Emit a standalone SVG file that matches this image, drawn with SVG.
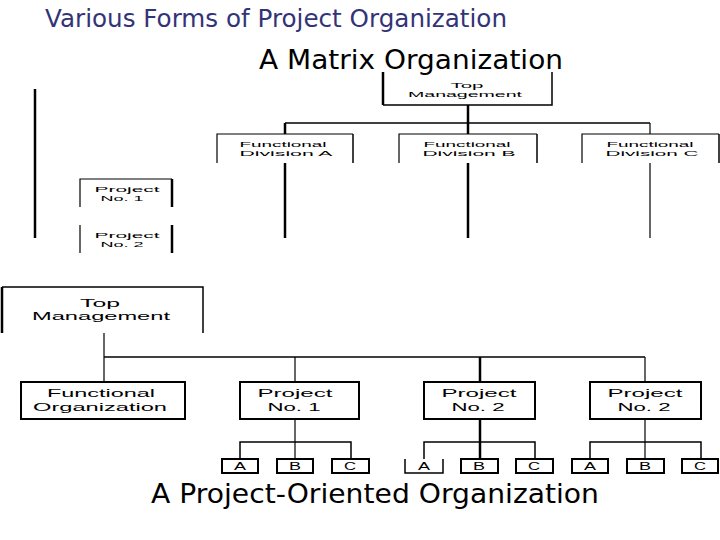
<svg xmlns="http://www.w3.org/2000/svg" width="720" height="540" viewBox="0 0 720 540">
<style>
.t{font-family:"DejaVu Sans","Liberation Sans",sans-serif;}
.lbl{font-family:"Liberation Sans",Arial,sans-serif;fill:#000;text-anchor:middle;}
.s9{font-size:7.5px;}
.s10{font-size:8px;}
.s13{font-size:11px;}
.sl{font-size:10px;}
.ln{stroke:#000;fill:none;stroke-width:1.5;}
.tk{stroke:#000;fill:none;stroke-width:2.5;}
.th{stroke:#000;fill:none;stroke-width:1.2;}
.bx{stroke:#000;fill:#fff;stroke-width:2;}
</style>
<rect width="720" height="540" fill="#fff"/>
<text class="t" x="45" y="27" font-size="24" fill="#333377" textLength="462" lengthAdjust="spacingAndGlyphs">Various Forms of Project Organization</text>
<text class="t" x="259" y="69" font-size="26" fill="#000" textLength="304" lengthAdjust="spacingAndGlyphs">A Matrix Organization</text>
<text class="t" x="151" y="503" font-size="27" fill="#000" textLength="448" lengthAdjust="spacingAndGlyphs">A Project-Oriented Organization</text>

<g id="connectors">
  <line class="tk" x1="35" y1="89" x2="35" y2="238"/>
  <line class="tk" x1="468" y1="105" x2="468" y2="134"/>
  <line class="ln" x1="285" y1="123" x2="650" y2="123"/>
  <line class="tk" x1="285" y1="123" x2="285" y2="134"/>
  <line class="th" x1="650" y1="123" x2="650" y2="134"/>
  <line class="tk" x1="285" y1="163" x2="285" y2="238"/>
  <line class="tk" x1="468" y1="163" x2="468" y2="238"/>
  <line class="th" x1="650" y1="163" x2="650" y2="238"/>
  <line class="th" x1="104" y1="333" x2="104" y2="382"/>
  <line class="ln" x1="104" y1="357" x2="645" y2="357"/>
  <line class="th" x1="295" y1="357" x2="295" y2="382"/>
  <line class="tk" x1="480" y1="357" x2="480" y2="382"/>
  <line class="th" x1="645" y1="357" x2="645" y2="382"/>
  <line class="th" x1="295" y1="419" x2="295" y2="459"/>
  <polyline class="ln" points="240,459 240,442 351,442 351,459"/>
  <line class="tk" x1="480" y1="419" x2="480" y2="459"/>
  <polyline class="ln" points="424,459 424,442 535,442 535,459"/>
  <line class="th" x1="645" y1="419" x2="645" y2="459"/>
  <polyline class="ln" points="590,459 590,442 701,442 701,459"/>
</g>

<g id="matrix-top">
  <line class="tk" x1="383" y1="72" x2="383" y2="105"/>
  <polyline class="ln" points="383,105 552,105 552,72"/>
  <text class="lbl s10" x="467" y="88" textLength="33" lengthAdjust="spacingAndGlyphs">Top</text>
  <text class="lbl s10" x="465" y="97" textLength="114" lengthAdjust="spacingAndGlyphs">Management</text>
</g>
<g id="div-a">
  <polyline class="th" points="217,163 217,134 353,134"/>
  <line class="ln" x1="353" y1="134" x2="353" y2="163"/>
  <text class="lbl s10" x="283" y="147" textLength="87" lengthAdjust="spacingAndGlyphs">Functional</text>
  <text class="lbl s10" x="286" y="156" textLength="93" lengthAdjust="spacingAndGlyphs">Division A</text>
</g>
<g id="div-b">
  <polyline class="th" points="399,163 399,134 537,134"/>
  <line class="ln" x1="537" y1="134" x2="537" y2="163"/>
  <text class="lbl s10" x="467" y="147" textLength="87" lengthAdjust="spacingAndGlyphs">Functional</text>
  <text class="lbl s10" x="469" y="156" textLength="93" lengthAdjust="spacingAndGlyphs">Division B</text>
</g>
<g id="div-c">
  <polyline class="th" points="582,163 582,134 719,134"/>
  <line class="ln" x1="719" y1="134" x2="719" y2="163"/>
  <text class="lbl s10" x="650" y="147" textLength="87" lengthAdjust="spacingAndGlyphs">Functional</text>
  <text class="lbl s10" x="652" y="156" textLength="93" lengthAdjust="spacingAndGlyphs">Division C</text>
</g>
<g id="mproj-1">
  <polyline class="th" points="80,207 80,179 172,179"/>
  <line class="tk" x1="172" y1="179" x2="172" y2="207"/>
  <text class="lbl s9" x="127" y="192" textLength="65" lengthAdjust="spacingAndGlyphs">Project</text>
  <text class="lbl s9" x="122" y="201" textLength="43" lengthAdjust="spacingAndGlyphs">No. 1</text>
</g>
<g id="mproj-2">
  <line class="th" x1="80" y1="225" x2="80" y2="253"/>
  <line class="tk" x1="172" y1="225" x2="172" y2="253"/>
  <text class="lbl s9" x="127" y="238" textLength="65" lengthAdjust="spacingAndGlyphs">Project</text>
  <text class="lbl s9" x="122" y="247" textLength="43" lengthAdjust="spacingAndGlyphs">No. 2</text>
</g>

<g id="po-top">
  <line class="tk" x1="2" y1="287" x2="2" y2="333"/>
  <polyline class="ln" points="2,287 203,287 203,333"/>
  <text class="lbl s13" x="100" y="307" textLength="40" lengthAdjust="spacingAndGlyphs">Top</text>
  <text class="lbl s13" x="101" y="320" textLength="138" lengthAdjust="spacingAndGlyphs">Management</text>
</g>
<g id="po-func">
  <rect class="bx" x="21" y="382" width="164" height="37"/>
  <text class="lbl s13" x="101" y="397" textLength="108" lengthAdjust="spacingAndGlyphs">Functional</text>
  <text class="lbl s13" x="100" y="411" textLength="134" lengthAdjust="spacingAndGlyphs">Organization</text>
</g>
<g id="po-proj1">
  <rect class="bx" x="240" y="382" width="119" height="37"/>
  <text class="lbl s13" x="295" y="397" textLength="75" lengthAdjust="spacingAndGlyphs">Project</text>
  <text class="lbl s13" x="294" y="411" textLength="53" lengthAdjust="spacingAndGlyphs">No. 1</text>
</g>
<g id="po-proj2">
  <rect class="bx" x="424" y="382" width="111" height="37"/>
  <text class="lbl s13" x="479" y="397" textLength="75" lengthAdjust="spacingAndGlyphs">Project</text>
  <text class="lbl s13" x="478" y="411" textLength="53" lengthAdjust="spacingAndGlyphs">No. 2</text>
</g>
<g id="po-proj3">
  <rect class="bx" x="590" y="382" width="111" height="37"/>
  <text class="lbl s13" x="645" y="397" textLength="75" lengthAdjust="spacingAndGlyphs">Project</text>
  <text class="lbl s13" x="644" y="411" textLength="53" lengthAdjust="spacingAndGlyphs">No. 2</text>
</g>

<g id="g1-a"><rect class="bx" x="222" y="459" width="36" height="14"/><text class="lbl sl" x="240" y="470" textLength="12" lengthAdjust="spacingAndGlyphs">A</text></g>
<g id="g1-b"><rect class="bx" x="277" y="459" width="36" height="14"/><text class="lbl sl" x="295" y="470" textLength="12" lengthAdjust="spacingAndGlyphs">B</text></g>
<g id="g1-c"><rect class="bx" x="332" y="459" width="37" height="14"/><text class="lbl sl" x="350" y="470" textLength="12" lengthAdjust="spacingAndGlyphs">C</text></g>
<g id="g2-a"><polyline class="ln" points="405,459 405,473 443,473 443,459"/><text class="lbl sl" x="424" y="470" textLength="12" lengthAdjust="spacingAndGlyphs">A</text></g>
<g id="g2-b"><rect class="bx" x="461" y="459" width="37" height="14"/><text class="lbl sl" x="479" y="470" textLength="12" lengthAdjust="spacingAndGlyphs">B</text></g>
<g id="g2-c"><rect class="bx" x="516" y="459" width="37" height="14"/><text class="lbl sl" x="534" y="470" textLength="12" lengthAdjust="spacingAndGlyphs">C</text></g>
<g id="g3-a"><rect class="bx" x="572" y="459" width="36" height="14"/><text class="lbl sl" x="590" y="470" textLength="12" lengthAdjust="spacingAndGlyphs">A</text></g>
<g id="g3-b"><rect class="bx" x="627" y="459" width="37" height="14"/><text class="lbl sl" x="645" y="470" textLength="12" lengthAdjust="spacingAndGlyphs">B</text></g>
<g id="g3-c"><rect class="bx" x="682" y="459" width="36" height="14"/><text class="lbl sl" x="700" y="470" textLength="12" lengthAdjust="spacingAndGlyphs">C</text></g>
</svg>
